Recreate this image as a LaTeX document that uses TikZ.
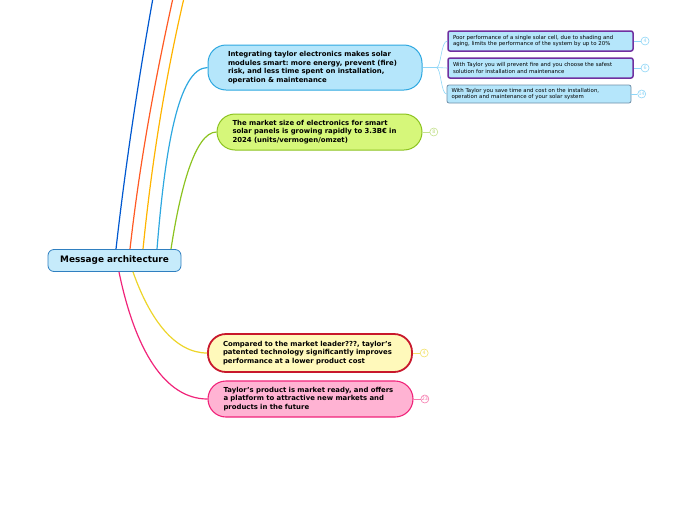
\documentclass[tikz,border=0pt]{standalone}
\usepackage{fontspec}
\setmainfont{DejaVu Sans}
\usetikzlibrary{positioning}
\frenchspacing
\definecolor{rootfill}{HTML}{C6EBFB}
\definecolor{rootline}{HTML}{2F7FC0}
\definecolor{bluefill}{HTML}{B5E6FB}
\definecolor{blueline}{HTML}{2EA8E0}
\definecolor{subline}{HTML}{7030A0}
\definecolor{greyline}{HTML}{6F8FA8}
\definecolor{greenfill}{HTML}{D6F77A}
\definecolor{greenline}{HTML}{8CC320}
\definecolor{yellowfill}{HTML}{FFF9BB}
\definecolor{yellowline}{HTML}{EDD52A}
\definecolor{redline}{HTML}{C8182C}
\definecolor{pinkfill}{HTML}{FFB3D3}
\definecolor{pinkline}{HTML}{F0247A}
\definecolor{darkblue}{HTML}{0058D0}
\definecolor{redorange}{HTML}{FF5A24}
\definecolor{orange}{HTML}{FFB400}
\definecolor{countblue}{HTML}{8FD6F7}

\begin{document}
\begin{tikzpicture}
[x=1pt, y=-1pt,
 root/.style={draw=rootline, fill=rootfill, line width=0.8pt, rounded corners=6pt,
   minimum width=133pt, minimum height=22pt, inner sep=0pt,
   font=\fontsize{8.9}{10}\selectfont\bfseries},
 topic/.style={line width=1pt, rounded corners=18pt, inner sep=0pt, align=left,
   text width=174pt, font=\fontsize{6.9}{8.6}\selectfont\bfseries},
 sub/.style={fill=bluefill, draw=subline, line width=1.5pt, rounded corners=2pt,
   inner sep=0pt, align=left, text width=175pt, minimum width=185pt,
   font=\fontsize{5.4}{6.3}\selectfont},
 count/.style={circle, draw, fill=white, line width=0.6pt, inner sep=0pt,
   minimum size=8pt, font=\fontsize{4.8}{5}\selectfont},
 link/.style={line width=1.2pt},
 twig/.style={line width=0.6pt, draw=countblue}]
\useasboundingbox (0,0) rectangle (697,520);

\coordinate (up1) at (153,-2);
\coordinate (up2) at (173,-2);
\coordinate (up3) at (184,-2);

\node[root] (msg) at (114.5,260.5) {Message architecture};

\node[topic, fill=bluefill, draw=blueline, minimum width=214pt, minimum height=45pt]
  (smart) at (315,67.5)
  {Integrating taylor electronics makes solar\\
   modules smart: more energy, prevent (fire)\\
   risk, and less time spent on installation,\\
   operation \& maintenance};
\node[topic, fill=greenfill, draw=greenline, minimum width=205pt, minimum height=36pt]
  (market) at (319.5,132)
  {The market size of electronics for smart\\
   solar panels is growing rapidly to 3.3B€ in\\
   2024 (units/vermogen/omzet)};
\node[topic, fill=yellowfill, draw=redline, line width=1.8pt, minimum width=204pt, minimum height=38pt]
  (leader) at (310,353)
  {Compared to the market leader???, taylor's\\
   patented technology significantly improves\\
   performance at a lower product cost};
\node[topic, fill=pinkfill, draw=pinkline, line width=1.1pt, minimum width=205pt, minimum height=36pt]
  (ready) at (310.5,399)
  {Taylor's product is market ready, and offers\\
   a platform to attractive new markets and\\
   products in the future};

\node[sub, minimum height=20pt] (shade) at (540.5,41)
  {Poor performance of a single solar cell, due to shading and\\
   aging, limits the performance of the system by up to 20\%};
\node[sub, minimum height=20pt] (fire) at (540.5,68)
  {With Taylor you will prevent fire and you choose the safest\\
   solution for installation and maintenance};
\node[sub, draw=greyline, line width=0.8pt, minimum width=184pt, minimum height=18pt] (cost) at (539,94)
  {With Taylor you save time and cost on the installation,\\
   operation and maintenance of your solar system};

\node[count, draw=countblue, text=countblue, right=7pt of shade] (n4) {4};
\node[count, draw=countblue, text=countblue, right=7pt of fire] (n6) {6};
\node[count, draw=countblue, text=countblue, right=6pt of cost] (n14) {14};
\node[count, draw=greenline!50, text=greenline!60, right=7pt of market] (n8) {8};
\node[count, draw=yellowline!70, text=yellowline!80, right=7pt of leader] (n4b) {4};
\node[count, draw=pinkline!60, text=pinkline!70, right=7pt of ready] (n23) {23};

\draw[link, darkblue] ([xshift=1.5pt]msg.north) .. controls (126,160) and (140,70) .. (up1);
\draw[link, redorange] ([xshift=15.5pt]msg.north) .. controls (140,160) and (155,80) .. (up2);
\draw[link, orange] ([xshift=28.5pt]msg.north) .. controls (152,160) and (165,80) .. (up3);
\draw[link, blueline] ([xshift=42.5pt]msg.north) .. controls (165,150) and (178,68) .. (smart.west);
\draw[link, greenline] ([xshift=56.5pt]msg.north) .. controls (180,190) and (195,132) .. (market.west);
\draw[link, yellowline] ([xshift=18.5pt]msg.south) .. controls (150,320) and (175,353) .. (leader.west);
\draw[link, pinkline] ([xshift=4.5pt]msg.south) .. controls (135,350) and (165,399) .. (ready.west);

\draw[twig] (smart.east) -- ++(14,0) coordinate (hub);
\draw[twig] (hub) .. controls (441,68) and (441,41) .. (shade.west);
\draw[twig] (hub) -- (fire.west);
\draw[twig] (hub) .. controls (441,68) and (441,94) .. (cost.west);

\draw[twig] (shade) -- (n4);
\draw[twig] (fire) -- (n6);
\draw[twig] (cost) -- (n14);
\draw[twig, draw=greenline!50] (market) -- (n8);
\draw[twig, draw=yellowline!70] (leader) -- (n4b);
\draw[twig, draw=pinkline!60] (ready) -- (n23);
\end{tikzpicture}
\end{document}
